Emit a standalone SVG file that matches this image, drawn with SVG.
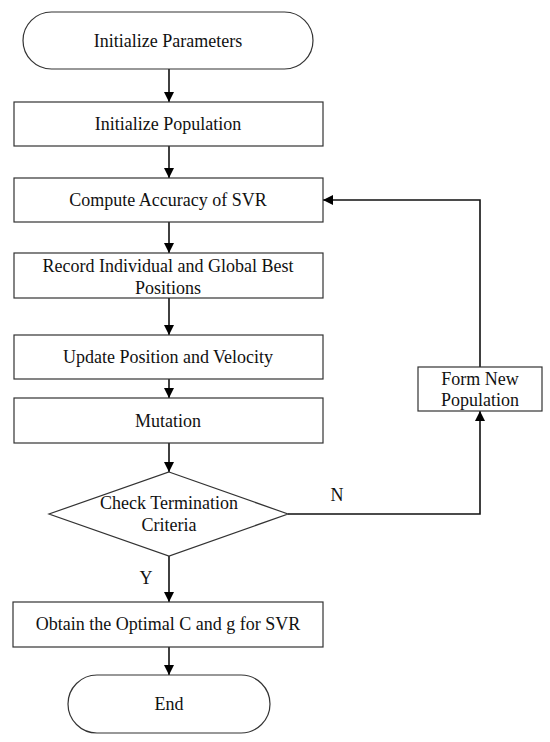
<svg xmlns="http://www.w3.org/2000/svg" width="550" height="742" viewBox="0 0 550 742">
<defs>
<marker id="ah" viewBox="0 0 10 10" refX="10" refY="5" markerWidth="10" markerHeight="10" markerUnits="userSpaceOnUse" orient="auto">
<path d="M0,0 L10,5 L0,10 Z" fill="#000"/>
</marker>
</defs>
<style>
.n{fill:#fff;stroke:#333;stroke-width:1.2}
.t{font-family:"Liberation Serif","Times New Roman",serif;font-size:18px;fill:#111;text-anchor:middle}
.c{fill:none;stroke:#111;stroke-width:1.6;marker-end:url(#ah)}
</style>
<rect width="550" height="742" fill="#fff"/>
<g id="connectors">
<path class="c" d="M169,69 V102"/>
<path class="c" d="M169,146 V178"/>
<path class="c" d="M169,222 V253"/>
<path class="c" d="M169,298 V335"/>
<path class="c" d="M169,379 V398"/>
<path class="c" d="M169,443 V472"/>
<path class="c" d="M169,556 V602"/>
<path class="c" d="M169,647 V675"/>
<path class="c" d="M288,514 H480 V411"/>
<path class="c" d="M480,367 V200 H323"/>
<text class="t" x="337" y="501">N</text>
<text class="t" x="146" y="584">Y</text>
</g>
<g id="n1"><rect class="n" x="23" y="12" width="290" height="57" rx="28.5"/><text class="t" x="168" y="47">Initialize Parameters</text></g>
<g id="n2"><rect class="n" x="14" y="102" width="309" height="44"/><text class="t" x="168" y="130">Initialize Population</text></g>
<g id="n3"><rect class="n" x="14" y="178" width="309" height="44"/><text class="t" x="168" y="206">Compute Accuracy of SVR</text></g>
<g id="n4"><rect class="n" x="14" y="253" width="309" height="45"/><text class="t" x="168" y="272">Record Individual and Global Best</text><text class="t" x="168" y="294">Positions</text></g>
<g id="n5"><rect class="n" x="14" y="335" width="309" height="44"/><text class="t" x="168" y="363">Update Position and Velocity</text></g>
<g id="n6"><rect class="n" x="14" y="398" width="309" height="45"/><text class="t" x="168" y="427">Mutation</text></g>
<g id="n7"><polygon class="n" points="169,472 288,514 169,556 49,514"/><text class="t" x="169" y="509">Check Termination</text><text class="t" x="169" y="531">Criteria</text></g>
<g id="n8"><rect class="n" x="13" y="602" width="310" height="45"/><text class="t" x="168" y="630">Obtain the Optimal C and g for SVR</text></g>
<g id="n9"><rect class="n" x="68" y="675" width="202" height="58" rx="29"/><text class="t" x="169" y="710">End</text></g>
<g id="n10"><rect class="n" x="418" y="367" width="124" height="44"/><text class="t" x="480" y="385">Form New</text><text class="t" x="480" y="406">Population</text></g>
</svg>
